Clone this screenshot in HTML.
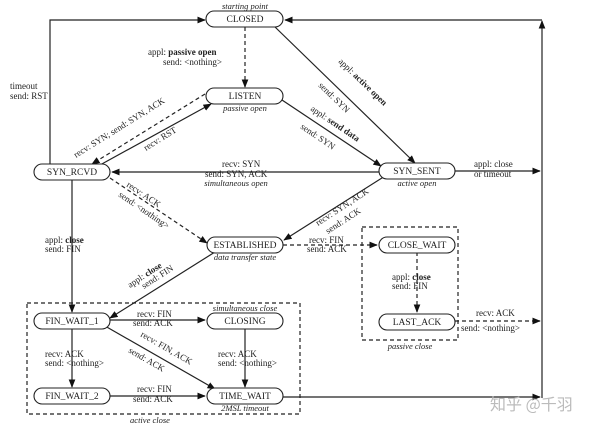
<!DOCTYPE html>
<html><head><meta charset="utf-8"><style>
html,body{margin:0;padding:0;background:#fff;width:600px;height:430px;overflow:hidden}
svg{display:block}
text{font-family:"Liberation Serif",serif;font-size:9px;fill:#222}
.n{font-size:9.5px;text-anchor:middle}
.i{font-style:italic;font-size:8.5px;text-anchor:middle}
.b{font-weight:bold}
</style></head><body>
<svg width="600" height="430" viewBox="0 0 600 430">
<defs><marker id="a" viewBox="0 0 10 10" refX="9" refY="5" markerWidth="7" markerHeight="7" orient="auto"><path d="M0,1 L10,5 L0,9 z" fill="#111"/></marker></defs>
<g stroke="#222" stroke-width="1.2" fill="none">
<path d="M50,164 V20 H205" marker-end="url(#a)"/>
<path d="M542,398 V21" marker-end="url(#a)"/>
<path d="M542,20 H285" marker-end="url(#a)"/>
<path d="M275,27 L415,163" marker-end="url(#a)"/>
<path d="M282,100 L381,166" marker-end="url(#a)"/>
<path d="M379,172 H112" marker-end="url(#a)"/>
<path d="M455,171 H540" marker-end="url(#a)"/>
<path d="M385,176 L284,240" marker-end="url(#a)"/>
<path d="M72,180 V312" marker-end="url(#a)"/>
<path d="M215,252 L110,318" marker-end="url(#a)"/>
<path d="M110,320 H205" marker-end="url(#a)"/>
<path d="M245,328 V387" marker-end="url(#a)"/>
<path d="M72,328 V387" marker-end="url(#a)"/>
<path d="M110,396 H205" marker-end="url(#a)"/>
<path d="M105,326 L215,389" marker-end="url(#a)"/>
<path d="M283,397 H540" marker-end="url(#a)"/>
<path d="M100,165 L211,104" marker-end="url(#a)"/>
</g>
<g stroke="#222" stroke-width="1.2" fill="none" stroke-dasharray="4,3">
<path d="M245,27 V87" marker-end="url(#a)"/>
<path d="M205,94 L92,164" marker-end="url(#a)"/>
<path d="M110,178 L207,243" marker-end="url(#a)"/>
<path d="M283,245 H377" marker-end="url(#a)"/>
<path d="M417,252 V312" marker-end="url(#a)"/>
<path d="M455,321 H540" marker-end="url(#a)"/>
<rect x="27" y="303" width="273" height="111"/>
<rect x="362" y="227" width="96" height="113"/>
</g>
<g stroke="#222" stroke-width="1.1" fill="#fff">
<rect x="206" y="11" width="77" height="16" rx="8"/>
<rect x="206" y="88" width="77" height="16" rx="8"/>
<rect x="34" y="164" width="76" height="16" rx="8"/>
<rect x="379" y="163" width="76" height="16" rx="8"/>
<rect x="207" y="237" width="76" height="16" rx="8"/>
<rect x="379" y="237" width="76" height="16" rx="8"/>
<rect x="379" y="314" width="76" height="16" rx="8"/>
<rect x="34" y="313" width="76" height="16" rx="8"/>
<rect x="207" y="313" width="76" height="16" rx="8"/>
<rect x="34" y="388" width="76" height="16" rx="8"/>
<rect x="207" y="388" width="76" height="16" rx="8"/>
</g>
<text class="n" x="245" y="22">CLOSED</text>
<text class="n" x="245" y="99">LISTEN</text>
<text class="n" x="72" y="175">SYN_RCVD</text>
<text class="n" x="417" y="174">SYN_SENT</text>
<text class="n" x="245" y="248">ESTABLISHED</text>
<text class="n" x="417" y="248">CLOSE_WAIT</text>
<text class="n" x="417" y="325">LAST_ACK</text>
<text class="n" x="72" y="324">FIN_WAIT_1</text>
<text class="n" x="245" y="324">CLOSING</text>
<text class="n" x="72" y="399">FIN_WAIT_2</text>
<text class="n" x="245" y="399">TIME_WAIT</text>
<text class="i" x="245" y="9">starting point</text>
<text class="i" x="245" y="111">passive open</text>
<text class="i" x="417" y="186">active open</text>
<text class="i" x="245" y="260">data transfer state</text>
<text class="i" x="245" y="311">simultaneous close</text>
<text class="i" x="245" y="411">2MSL timeout</text>
<text class="i" x="150" y="423">active close</text>
<text class="i" x="410" y="349">passive close</text>
<text class="i" x="236" y="186">simultaneous open</text>
<text x="148" y="55">appl: <tspan class="b">passive open</tspan></text>
<text x="163" y="65">send: &lt;nothing&gt;</text>
<text x="10" y="89">timeout</text>
<text x="10" y="99">send:  RST</text>
<text x="222" y="167">recv: SYN</text>
<text x="205" y="177">send: SYN, ACK</text>
<text x="474" y="167">appl: close</text>
<text x="474" y="177">or timeout</text>
<text x="45" y="243">appl: <tspan class="b">close</tspan></text>
<text x="45" y="252">send: FIN</text>
<text x="309" y="243">recv: FIN</text>
<text x="307" y="252">send: ACK</text>
<text x="392" y="280">appl: <tspan class="b">close</tspan></text>
<text x="392" y="289">send: FIN</text>
<text x="476" y="316">recv: ACK</text>
<text x="461" y="331">send: &lt;nothing&gt;</text>
<text x="137" y="317">recv: FIN</text>
<text x="133" y="326">send: ACK</text>
<text x="45" y="357">recv:  ACK</text>
<text x="45" y="366">send:  &lt;nothing&gt;</text>
<text x="218" y="357">recv:  ACK</text>
<text x="218" y="366">send:  &lt;nothing&gt;</text>
<text x="137" y="392">recv: FIN</text>
<text x="133" y="402">send: ACK</text>
<text transform="translate(76,158) rotate(-32)">recv: SYN;  send: SYN, ACK</text>
<text transform="translate(146,151) rotate(-32)">recv: RST</text>
<text transform="translate(126,186) rotate(34)">recv: ACK</text>
<text transform="translate(118,196) rotate(34)">send: &lt;nothing&gt;</text>
<text transform="translate(338,62) rotate(44)">appl: <tspan class="b">active open</tspan></text>
<text transform="translate(318,86) rotate(44)">send: SYN</text>
<text transform="translate(310,110) rotate(34)">appl: <tspan class="b">send data</tspan></text>
<text transform="translate(300,128) rotate(34)">send: SYN</text>
<text transform="translate(318,226) rotate(-33)">recv: SYN, ACK</text>
<text transform="translate(328,234) rotate(-33)">send: ACK</text>
<text transform="translate(130,288) rotate(-33)">appl: <tspan class="b">close</tspan></text>
<text transform="translate(144,289) rotate(-33)">send: FIN</text>
<text transform="translate(140,336) rotate(30)">recv: FIN, ACK</text>
<text transform="translate(128,352) rotate(30)">send: ACK</text>
<text x="490" y="410" style="font-family:'Noto Sans CJK SC',sans-serif;font-size:16px;fill:#bbb">知乎 @千羽</text>
</svg>
</body></html>
